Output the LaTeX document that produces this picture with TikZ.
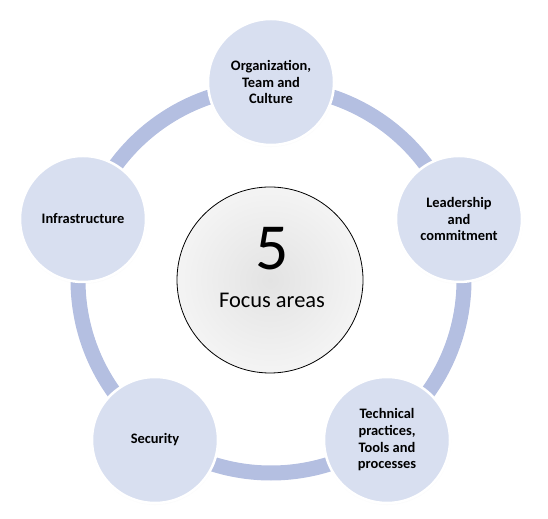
\documentclass[tikz,border=0pt]{standalone}
\usepackage{fontspec}
\setmainfont{Carlito}
\usetikzlibrary{shadows}
\definecolor{ringblue}{HTML}{B4BFE1}
\definecolor{areafill}{HTML}{D8DFF0}
\definecolor{hubfill}{HTML}{E3E3E3}

\begin{document}
\begin{tikzpicture}[x=1bp, y=1bp,
	area/.style={circle, minimum size=126bp, inner sep=0pt, align=center,
		font=\bfseries\fontsize{14.5}{16.7}\selectfont, fill=areafill, draw=white, line width=2.5bp,
		circular drop shadow={shadow xshift=0bp, shadow yshift=-1bp, opacity=0.15, shadow scale=1.02}},
	hub/.style={circle, minimum size=186bp, inner sep=0pt, draw=black, line width=0.8bp,
		inner color=hubfill, outer color=hubfill!40}]
	\useasboundingbox (0,0) rectangle (548,519);
	%\draw[help lines] (0,0) grid (548,519);
	
	\coordinate (mid) at (271,239);						% Mitte vom Ring
	\draw[ringblue, line width=15bp] (mid) circle (193bp);		% Ring
	\draw[white, line width=0.8bp, opacity=0.7] (mid) circle (184.5bp);	% Lichtkante
	
	\node [area] (org) at (271,437) {Organization,\\Team and\\Culture};
	\node [area] (lead) at (459,300) {Leadership\\and\\commitment};
	\node [area] (tech) at (387,79) {Technical\\practices,\\Tools and\\processes};
	\node [area] (sec) at (155,79) {Security};
	\node [area] (infra) at (83,300) {Infrastructure};
	
	\node [hub] (hub) at (270,239) {};					% Kreis in der Mitte
	\node [font=\fontsize{66}{66}\selectfont] (five) at (272,270) {5};
	\node [font=\fontsize{22.5}{24}\selectfont] (focus) at (272,219) {Focus areas};
\end{tikzpicture}
\end{document}
